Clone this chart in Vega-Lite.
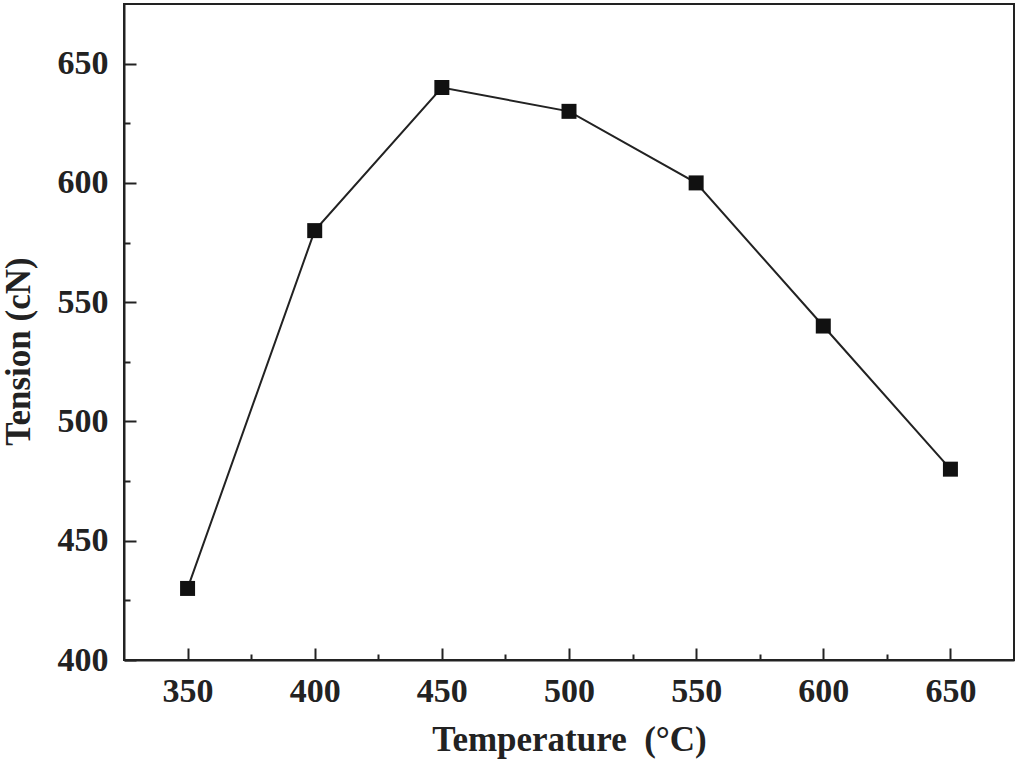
{
  "$schema": "https://vega.github.io/schema/vega-lite/v6.json",
  "width": 890,
  "height": 656,
  "autosize": {"type": "none"},
  "padding": {"left": 124, "top": 4, "right": 6, "bottom": 100},
  "background": "white",
  "config": {
    "view": {"stroke": "#222222", "strokeWidth": 2},
    "axis": {
      "labelFont": "Liberation Serif",
      "labelFontWeight": "bold",
      "labelFontSize": 34,
      "labelColor": "#222222",
      "titleFont": "Liberation Serif",
      "titleFontWeight": "bold",
      "titleFontSize": 35,
      "titleColor": "#222222",
      "domainColor": "#222222",
      "domainWidth": 2,
      "tickColor": "#222222",
      "tickWidth": 2,
      "grid": false
    }
  },
  "data": {
    "values": [
      {"temp": 350, "tension": 430},
      {"temp": 400, "tension": 580},
      {"temp": 450, "tension": 640},
      {"temp": 500, "tension": 630},
      {"temp": 550, "tension": 600},
      {"temp": 600, "tension": 540},
      {"temp": 650, "tension": 480}
    ]
  },
  "encoding": {
    "x": {
      "field": "temp",
      "type": "quantitative",
      "scale": {"domain": [325, 675], "nice": false, "zero": false},
      "axis": {
        "title": "Temperature \u00a0(°C)",
        "values": [375, 425, 475, 525, 575, 625, 350, 400, 450, 500, 550, 600, 650],
        "labelExpr": "datum.value % 50 == 0 ? datum.label : ''",
        "tickSize": {"condition": {"test": "datum.value % 50 == 0", "value": -12}, "value": -6},
        "labelPadding": 26,
        "titlePadding": 14
      }
    },
    "y": {
      "field": "tension",
      "type": "quantitative",
      "scale": {"domain": [400, 675], "nice": false, "zero": false},
      "axis": {
        "title": "Tension (cN)",
        "values": [425, 475, 525, 575, 625, 400, 450, 500, 550, 600, 650],
        "labelExpr": "datum.value % 50 == 0 ? datum.label : ''",
        "tickSize": {"condition": {"test": "datum.value % 50 == 0", "value": -12}, "value": -6},
        "labelPadding": 28,
        "titlePadding": 21,
        "titleY": 347
      }
    }
  },
  "layer": [
    {"mark": {"type": "line", "color": "#222222", "strokeWidth": 2}},
    {"mark": {"type": "point", "shape": "square", "filled": true, "size": 225, "color": "#111111", "opacity": 1}}
  ]
}
